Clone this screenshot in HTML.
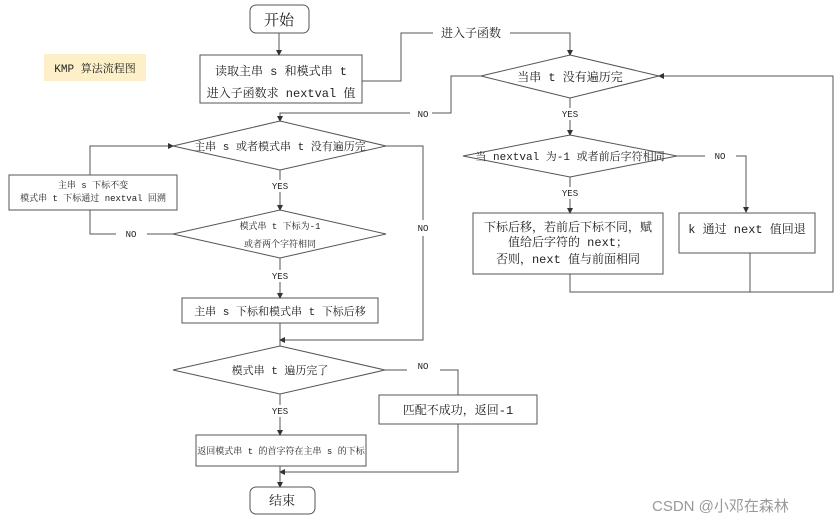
<!DOCTYPE html>
<html><head><meta charset="utf-8"><style>
body{margin:0;background:#fff}
svg text{font-family:"Liberation Mono","Noto Serif CJK SC",serif;fill:#222}
.s{font-size:9px}
.m{font-size:11px}
.l{font-size:12px}
</style></head><body>
<svg width="837" height="523" xmlns="http://www.w3.org/2000/svg">
<defs><marker id="a" markerWidth="6" markerHeight="6" refX="5" refY="3" orient="auto" markerUnits="userSpaceOnUse"><path d="M0,0 L6,3 L0,6z" fill="#333"/></marker></defs>
<g fill="none" stroke="#555" stroke-width="1">
<rect x="250" y="5" width="59" height="28" rx="6"/>
<line x1="279" y1="33" x2="279" y2="55" marker-end="url(#a)"/>
<rect x="200" y="55" width="162" height="48"/>
<polyline points="362,81 401,81 401,33 433,33"/>
<polyline points="510,33 570,33 570,55" marker-end="url(#a)"/>
<polygon points="570,55 659,76 570,98 481,76"/>
<polyline points="481,76 451,76 451,113 432,113"/>
<polyline points="410,113 280,113 280,121" marker-end="url(#a)"/>
<polygon points="280,121 386,146 280,170 173,146"/>
<polyline points="90,175 90,146 173,146" marker-end="url(#a)"/>
<rect x="9" y="175" width="168" height="35"/>
<polyline points="90,210 90,234 116,234"/>
<line x1="147" y1="234" x2="173" y2="234"/>
<polyline points="386,146 423,146 423,220"/>
<polyline points="423,236 423,340 280,340" marker-end="url(#a)"/>
<line x1="280" y1="170" x2="280" y2="180"/>
<line x1="280" y1="192" x2="280" y2="210" marker-end="url(#a)"/>
<polygon points="280,210 386,234 280,258 173,234"/>
<line x1="280" y1="258" x2="280" y2="270"/>
<line x1="280" y1="282" x2="280" y2="298" marker-end="url(#a)"/>
<rect x="182" y="298" width="196" height="25"/>
<line x1="280" y1="323" x2="280" y2="346"/>
<polygon points="280,346 385,370 280,394 173,370"/>
<line x1="385" y1="370" x2="407" y2="370"/>
<polyline points="440,370 458,370 458,395"/>
<rect x="379" y="395" width="158" height="29"/>
<polyline points="458,424 458,472 280,472" marker-end="url(#a)"/>
<line x1="280" y1="394" x2="280" y2="405"/>
<line x1="280" y1="417" x2="280" y2="435" marker-end="url(#a)"/>
<rect x="196" y="435" width="170" height="31"/>
<line x1="280" y1="466" x2="280" y2="487" marker-end="url(#a)"/>
<rect x="250" y="487" width="65" height="27" rx="6"/>
<line x1="570" y1="98" x2="570" y2="108"/>
<line x1="570" y1="120" x2="570" y2="135" marker-end="url(#a)"/>
<polygon points="570,135 677,156 570,177 463,156"/>
<line x1="677" y1="156" x2="705" y2="156"/>
<polyline points="736,156 746,156 746,212" marker-end="url(#a)"/>
<rect x="679" y="213" width="136" height="40"/>
<line x1="570" y1="177" x2="570" y2="187"/>
<line x1="570" y1="199" x2="570" y2="213" marker-end="url(#a)"/>
<rect x="473" y="213" width="190" height="61"/>
<polyline points="570,274 570,292 833,292 833,76 659,76" marker-end="url(#a)"/>
<line x1="750" y1="253" x2="750" y2="292"/>
</g>
<rect x="44" y="54" width="102" height="27" fill="#fdf0c8"/>
<text x="95" y="72" class="m" text-anchor="middle">KMP 算法流程图</text>
<g text-anchor="middle">
<text x="279" y="25" style="font-size:15px">开始</text>
<text x="281" y="75" class="l">读取主串 s 和模式串 t</text>
<text x="281" y="97" class="l">进入子函数求 nextval 值</text>
<text x="471" y="37" class="l">进入子函数</text>
<text x="570" y="81" class="l">当串 t 没有遍历完</text>
<text x="423" y="117" class="s">NO</text>
<text x="280" y="150" class="m">主串 s 或者模式串 t 没有遍历完</text>
<text x="93" y="188" class="s">主串 s 下标不变</text>
<text x="93" y="201" class="s">模式串 t 下标通过 nextval 回溯</text>
<text x="131" y="237" class="s">NO</text>
<text x="280" y="189" class="s">YES</text>
<text x="280" y="229" class="s">模式串 t 下标为-1</text>
<text x="280" y="247" class="s">或者两个字符相同</text>
<text x="423" y="231" class="s">NO</text>
<text x="280" y="279" class="s">YES</text>
<text x="280" y="315" class="m">主串 s 下标和模式串 t 下标后移</text>
<text x="280" y="374" class="m">模式串 t 遍历完了</text>
<text x="423" y="369" class="s">NO</text>
<text x="458" y="414" class="l">匹配不成功，返回-1</text>
<text x="280" y="414" class="s">YES</text>
<text x="281" y="454" class="s">返回模式串 t 的首字符在主串 s 的下标</text>
<text x="282" y="505" style="font-size:13px">结束</text>
<text x="570" y="117" class="s">YES</text>
<text x="570" y="160" class="m">当 nextval 为-1 或者前后字符相同</text>
<text x="720" y="159" class="s">NO</text>
<text x="570" y="196" class="s">YES</text>
<text x="568" y="231" class="l">下标后移，若前后下标不同，赋</text>
<text x="568" y="246" class="l">值给后字符的 next；</text>
<text x="568" y="263" class="l">否则，next 值与前面相同</text>
<text x="747" y="233" class="l">k 通过 next 值回退</text>
</g>
<text x="652" y="511" style="font-size:15px;fill:#999;font-family:'Liberation Sans','Noto Sans CJK SC',sans-serif">CSDN @小邓在森林</text>
</svg>
</body></html>
